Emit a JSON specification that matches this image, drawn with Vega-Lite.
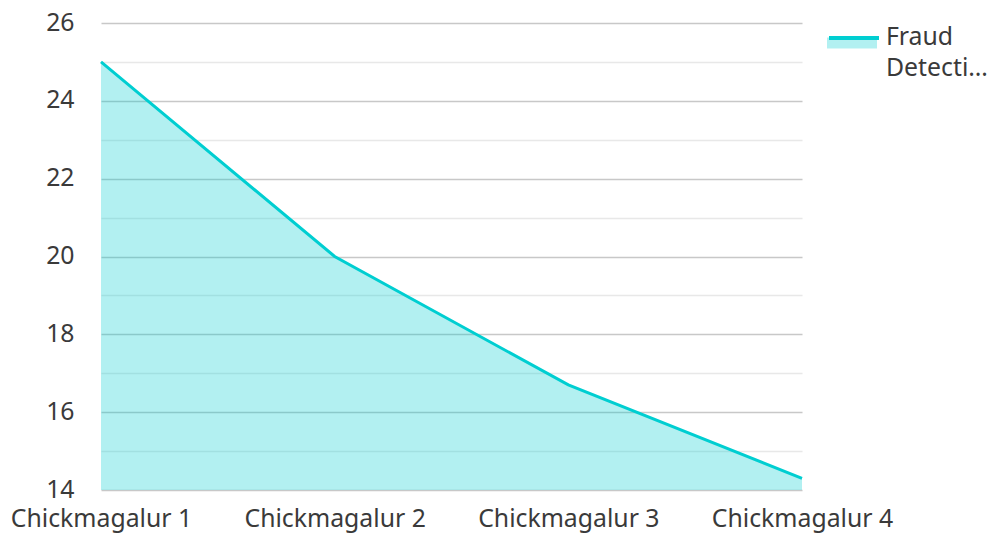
{
  "$schema": "https://vega.github.io/schema/vega-lite/v6.json",
  "width": 701,
  "height": 467,
  "autosize": {"type": "none"},
  "padding": {"left": 101, "top": 23, "right": 187, "bottom": 43},
  "background": "white",
  "config": {
    "view": {"stroke": null},
    "font": "Noto Sans"
  },
  "data": {
    "values": [
      {"city": "Chickmagalur 1", "value": 25, "series": "Fraud Detection"},
      {"city": "Chickmagalur 2", "value": 20, "series": "Fraud Detection"},
      {"city": "Chickmagalur 3", "value": 16.7, "series": "Fraud Detection"},
      {"city": "Chickmagalur 4", "value": 14.3, "series": "Fraud Detection"}
    ]
  },
  "encoding": {
    "x": {
      "field": "city",
      "type": "nominal",
      "sort": null,
      "scale": {"type": "point", "padding": 0},
      "axis": {
        "title": null,
        "domain": false,
        "ticks": false,
        "grid": false,
        "labelAngle": 0,
        "labelFont": "Noto Sans",
        "labelFontSize": 24.8,
        "labelColor": "#3a3a3a",
        "labelLimit": 400,
        "labelPadding": 16
      }
    },
    "y": {
      "field": "value",
      "type": "quantitative",
      "scale": {"domain": [14, 26], "nice": false, "zero": false},
      "axis": {
        "title": null,
        "domain": false,
        "ticks": false,
        "values": [14, 15, 16, 17, 18, 19, 20, 21, 22, 23, 24, 25, 26],
        "labelExpr": "datum.value % 2 === 0 ? datum.label : ''",
        "labelFont": "Noto Sans",
        "labelFontSize": 24.8,
        "labelColor": "#3a3a3a",
        "labelPadding": 27,
        "grid": true,
        "gridColor": {"condition": {"test": "datum.value % 2 === 1", "value": "#e8e8e8"}, "value": "#c8c8c8"},
        "gridWidth": 1.3
      }
    }
  },
  "layer": [
    {
      "mark": {"type": "area", "fillOpacity": 0.3, "clip": true},
      "encoding": {
        "fill": {
          "field": "series",
          "type": "nominal",
          "scale": {"domain": ["Fraud Detection"], "range": ["#00CED1"]},
          "legend": {
            "title": null,
            "orient": "none",
            "legendX": 726,
            "legendY": -5,
            "padding": 0,
            "symbolType": "M-1,-0.22H1V0.22H-1Z",
            "symbolSize": 2500,
            "symbolStrokeWidth": 0,
            "symbolOpacity": 0.3,
            "labelExpr": "''",
            "labelFontSize": 1
          }
        }
      }
    },
    {
      "mark": {"type": "line", "strokeWidth": 3},
      "encoding": {
        "stroke": {
          "field": "series",
          "type": "nominal",
          "scale": {"range": ["#00CED1"]},
          "legend": {
            "title": null,
            "orient": "none",
            "legendX": 726,
            "legendY": -12,
            "padding": 0,
            "symbolType": "stroke",
            "symbolSize": 2500,
            "symbolStrokeWidth": 4,
            "symbolOpacity": 1,
            "labelOffset": 5,
            "labelFont": "Noto Sans",
            "labelFontSize": 24.8,
            "labelColor": "#3a3a3a",
            "labelLimit": 300,
            "labelExpr": "['Fraud', 'Detecti…']",
            "labelBaseline": "middle",
            "encode": {
              "labels": {
                "update": {
                  "lineHeight": {"value": 31}
                }
              }
            }
          }
        }
      }
    }
  ]
}
